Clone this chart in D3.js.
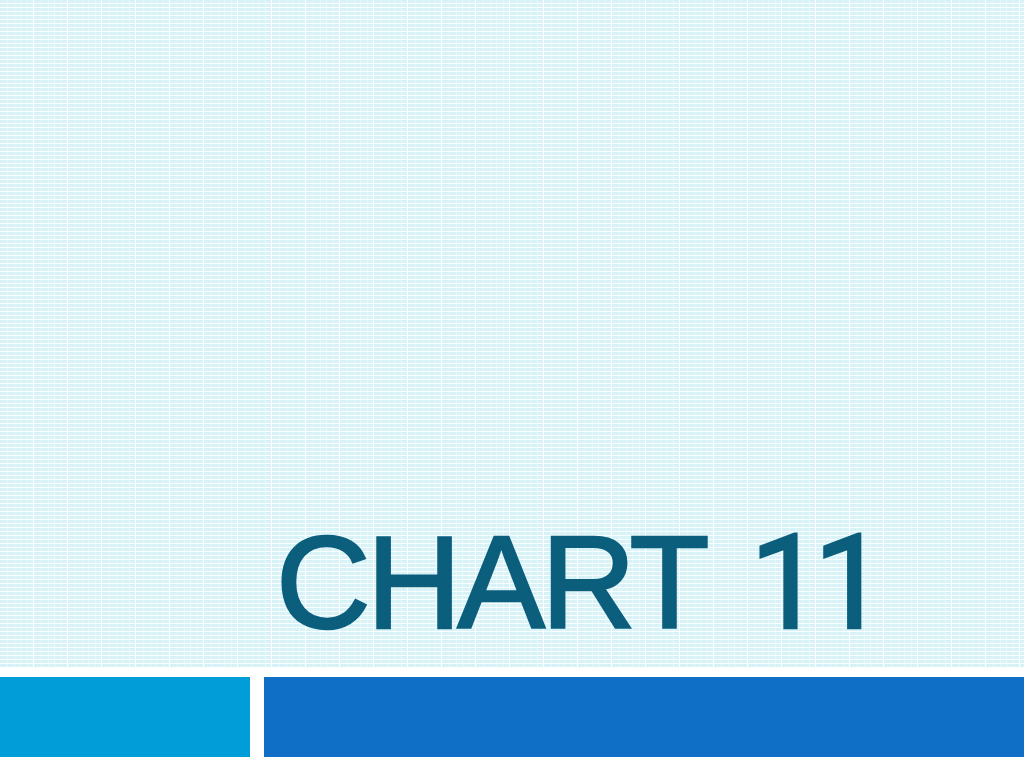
<!DOCTYPE html>
<html>
<head>
<meta charset="utf-8">
<script src="https://d3js.org/d3.v7.min.js"></script>
<style>
  html, body { margin: 0; padding: 0; background: #ffffff; overflow: hidden; }
  svg { display: block; }
</style>
</head>
<body>
<svg width="1024" height="768"></svg>
<script>
var titleWord = "CHART";
var titleNumber = "11";
var barColors = ["#009dd9", "#0f6fc6"];

var svg = d3.select("svg");
var defs = svg.append("defs");

// graph paper pattern for the upper area
var pat = defs.append("pattern")
  .attr("id", "grid")
  .attr("patternUnits", "userSpaceOnUse")
  .attr("width", 34)
  .attr("height", 4);
pat.append("rect").attr("width", 34).attr("height", 4).attr("fill", "#d8f3f8");
// minor vertical lines
[7, 14, 20, 27].forEach(function (x) {
  pat.append("rect").attr("x", x).attr("y", 0).attr("width", 1).attr("height", 4)
    .attr("fill", "#ffffff").attr("opacity", 0.35);
});
// horizontal line
pat.append("rect").attr("x", 0).attr("y", 3).attr("width", 34).attr("height", 1)
  .attr("fill", "#ffffff").attr("opacity", 0.85);
// major vertical line
pat.append("rect").attr("x", 33).attr("y", 0).attr("width", 1).attr("height", 4)
  .attr("fill", "#ffffff");

svg.append("rect")
  .attr("x", 0).attr("y", 0)
  .attr("width", 1024).attr("height", 667)
  .attr("fill", "url(#grid)");

// bottom bars
svg.append("rect")
  .attr("x", 0).attr("y", 677)
  .attr("width", 250).attr("height", 80)
  .attr("fill", barColors[0]);
svg.append("rect")
  .attr("x", 264).attr("y", 677)
  .attr("width", 760).attr("height", 80)
  .attr("fill", barColors[1]);

// title: regular face thickened with a thin stroke
var title = svg.append("text")
  .attr("x", 276)
  .attr("y", 628)
  .attr("font-size", 131)
  .style("white-space", "pre")
  .attr("fill", "#0b5e7c")
  .attr("stroke", "#0b5e7c")
  .attr("stroke-width", 2.4);

title.append("tspan")
  .attr("font-family", "Liberation Sans, Arial, sans-serif")
  .attr("letter-spacing", -3.8)
  .text(titleWord);

// digits in a face whose "1" has no foot
title.append("tspan")
  .attr("dx", 44)
  .attr("font-family", "Roboto, Arial, sans-serif")
  .attr("letter-spacing", -10)
  .text(titleNumber);
</script>
</body>
</html>
